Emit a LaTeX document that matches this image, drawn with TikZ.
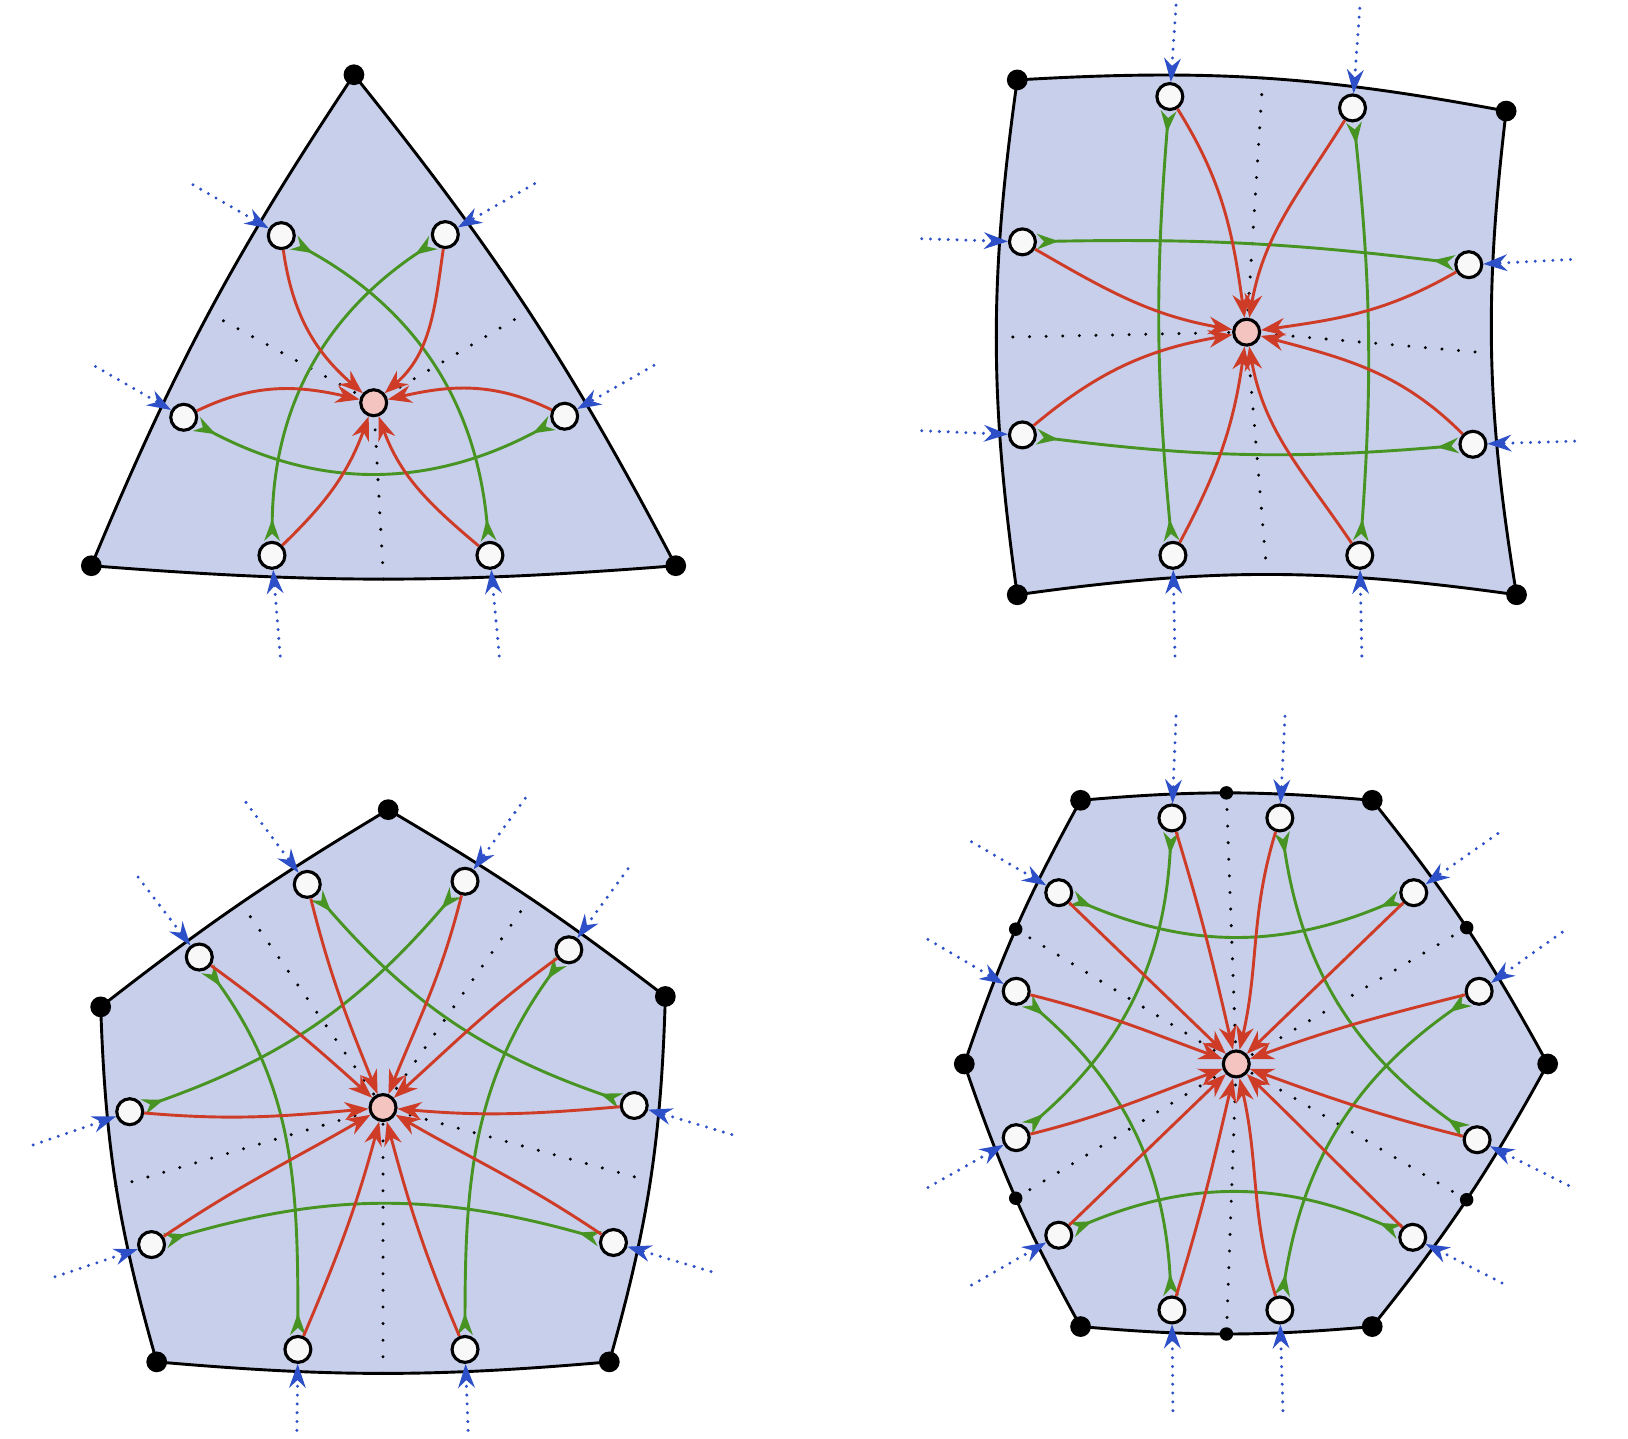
\documentclass[tikz,border=0pt]{standalone}
\usetikzlibrary{arrows.meta}
\definecolor{polyfill}{RGB}{199,207,234}
\definecolor{arrred}{RGB}{206,60,40}
\definecolor{arrgreen}{RGB}{72,148,34}
\definecolor{arrblue}{RGB}{45,80,200}
\definecolor{centerpink}{RGB}{244,196,192}
\definecolor{nodewhite}{RGB}{248,248,248}
\begin{document}
\begin{tikzpicture}[x=1pt,y=-1pt,
  poly/.style={draw=black,line width=2.8pt,fill=polyfill,line join=round},
  wn/.style={circle,draw=black,line width=3pt,fill=nodewhite,minimum size=25pt,inner sep=0pt},
  cn/.style={circle,draw=black,line width=3pt,fill=centerpink,minimum size=25pt,inner sep=0pt},
  vdot/.style={circle,fill=black,minimum size=20pt,inner sep=0pt},
  mdot/.style={circle,fill=black,minimum size=13pt,inner sep=0pt},
  redarr/.style={draw=arrred,line width=2.8pt,-{Stealth[length=23pt,width=17pt]}},
  grnarr/.style={draw=arrgreen,line width=2.8pt,{Stealth[length=21pt,width=15pt,reversed]}-{Stealth[length=21pt,width=15pt,reversed]}},
  bluarr/.style={draw=arrblue,line width=3.2pt,dash pattern=on 0pt off 8.5pt,line cap=round,-{Stealth[length=23pt,width=16pt]}},
  axisln/.style={draw=black,line width=3.2pt,dash pattern=on 0pt off 16pt,line cap=round},
]
\useasboundingbox (0,0) rectangle (1568.4,1385.4);

% ================= polygons =================
% triangle
\coordinate (tV1) at (341,72);
\coordinate (tV2) at (88,545);
\coordinate (tV3) at (651,545);
\path[poly] (tV2) to[bend right=4.5] coordinate[pos=.5] (tM1) (tV3)
  to[bend right=5.5] coordinate[pos=.5] (tM2) (tV1)
  to[bend right=5.5] coordinate[pos=.5] (tM3) (tV2) -- cycle;
% square
\coordinate (sV1) at (980,77);
\coordinate (sV2) at (1451,107);
\coordinate (sV3) at (1461,573);
\coordinate (sV4) at (980,573);
\path[poly] (sV1) to[bend right=8] coordinate[pos=.5] (sMl) (sV4)
  to[bend left=8] coordinate[pos=.5] (sMb) (sV3)
  to[bend left=8] coordinate[pos=.5] (sMr) (sV2)
  to[bend right=7] coordinate[pos=.5] (sMt) (sV1) -- cycle;
% pentagon
\coordinate (pV1) at (374,780);
\coordinate (pV2) at (97,970);
\coordinate (pV3) at (151,1312);
\coordinate (pV4) at (587,1312);
\coordinate (pV5) at (641,960);
\path[poly] (pV1) to[bend right=3.5] coordinate[pos=.5] (pM1) (pV2)
  to[bend right=7] coordinate[pos=.5] (pM2) (pV3)
  to[bend right=5] coordinate[pos=.5] (pM3) (pV4)
  to[bend right=7] coordinate[pos=.5] (pM4) (pV5)
  to[bend right=3.5] coordinate[pos=.5] (pM5) (pV1) -- cycle;
% hexagon
\coordinate (hV1) at (1041,771);
\coordinate (hV2) at (929,1025);
\coordinate (hV3) at (1041,1278);
\coordinate (hV4) at (1322,1278);
\coordinate (hV5) at (1491,1025);
\coordinate (hV6) at (1322,771);
\path[poly] (hV1) to[bend right=5] coordinate[pos=.5] (hM1) (hV2)
  to[bend right=5] coordinate[pos=.5] (hM2) (hV3)
  to[bend right=5] coordinate[pos=.5] (hM3) (hV4)
  to[bend right=5] coordinate[pos=.5] (hM4) (hV5)
  to[bend right=5] coordinate[pos=.5] (hM5) (hV6)
  to[bend right=5] coordinate[pos=.5] (hM6) (hV1) -- cycle;

% ================= nodes =================
% triangle
\node[cn] (tC) at (360,388) {};
\node[wn] (tL1) at (271,227) {};
\node[wn] (tL2) at (177,402) {};
\node[wn] (tR1) at (429,226) {};
\node[wn] (tR2) at (544,401) {};
\node[wn] (tB1) at (262,535) {};
\node[wn] (tB2) at (472,535) {};
% square
\node[cn] (sC) at (1201,320) {};
\node[wn] (sT1) at (1127,93) {};
\node[wn] (sT2) at (1303,104) {};
\node[wn] (sR1) at (1415,255) {};
\node[wn] (sR2) at (1419,428) {};
\node[wn] (sB1) at (1130,535) {};
\node[wn] (sB2) at (1310,535) {};
\node[wn] (sL1) at (985,233) {};
\node[wn] (sL2) at (985,419) {};
% pentagon
\node[cn] (pO) at (369,1067) {};
\node[wn] (pa1) at (192,922) {};
\node[wn] (pa2) at (296,852) {};
\node[wn] (pb1) at (448,849) {};
\node[wn] (pb2) at (548,915) {};
\node[wn] (pc1) at (611,1065) {};
\node[wn] (pc2) at (591,1197) {};
\node[wn] (pd1) at (448,1300) {};
\node[wn] (pd2) at (287,1300) {};
\node[wn] (pe1) at (146,1199) {};
\node[wn] (pe2) at (125,1071) {};
% hexagon
\node[cn] (hO) at (1191,1025) {};
\node[wn] (ht1) at (1129,788) {};
\node[wn] (ht2) at (1233,788) {};
\node[wn] (hr1) at (1362,860) {};
\node[wn] (hr2) at (1425,955) {};
\node[wn] (hs1) at (1423,1098) {};
\node[wn] (hs2) at (1361,1192) {};
\node[wn] (hb1) at (1233,1262) {};
\node[wn] (hb2) at (1129,1262) {};
\node[wn] (hl1) at (1020,1190) {};
\node[wn] (hl2) at (979,1096) {};
\node[wn] (hu1) at (979,955) {};
\node[wn] (hu2) at (1020,860) {};

% ================= dotted axes =================
\foreach \m in {tM1,tM2,tM3} \draw[axisln] (\m) -- (tC);
\foreach \m in {sMl,sMb,sMr,sMt} \draw[axisln] (\m) -- (sC);
\foreach \m in {pM1,pM2,pM3,pM4,pM5} \draw[axisln] (\m) -- (pO);
\foreach \m in {hM1,hM2,hM3,hM4,hM5,hM6} \draw[axisln] (\m) -- (hO);

% ================= green =================
\draw[grnarr] (tL2) to[bend right=28] (tR2);
\draw[grnarr] (tL1) to[bend left=28] (tB2);
\draw[grnarr] (tR1) to[bend right=28] (tB1);

\draw[grnarr] (sT1) to[bend right=5] (sB1);
\draw[grnarr] (sT2) to[bend left=5] (sB2);
\draw[grnarr] (sL1) to[bend left=4] (sR1);
\draw[grnarr] (sL2) to[bend right=6] (sR2);

\draw[grnarr] (pe2) to[bend right=15] (pb1);
\draw[grnarr] (pa2) to[bend right=15] (pc1);
\draw[grnarr] (pb2) to[out=-126,in=90] (pd1);
\draw[grnarr] (pe1) to[bend left=16] (pc2);
\draw[grnarr] (pa1) to[out=-54,in=90] (pd2);

\draw[grnarr] (hu2) to[bend right=23] (hr1);
\draw[grnarr] (hl1) to[bend left=23] (hs2);
\draw[grnarr] (ht1) to[bend left=23] (hl2);
\draw[grnarr] (ht2) to[bend right=23] (hs1);
\draw[grnarr] (hu1) to[bend left=23] (hb2);
\draw[grnarr] (hr2) to[bend right=23] (hb1);

% ================= red =================
\draw[redarr] (tL1) to[out=-82,in=139] (tC);
\draw[redarr] (tR1) to[out=-98,in=41] (tC);
\draw[redarr] (tL2) to[out=26,in=167] (tC);
\draw[redarr] (tR2) to[out=154,in=13] (tC);
\draw[redarr] (tB1) to[out=44,in=-110] (tC);
\draw[redarr] (tB2) to[out=140,in=-70] (tC);

\draw[redarr] (sT1) to[out=-58,in=98] (sC);
\draw[redarr] (sT2) to[out=-122,in=80] (sC);
\draw[redarr] (sL1) to[out=-30,in=170] (sC);
\draw[redarr] (sL2) to[out=40,in=190] (sC);
\draw[redarr] (sR1) to[out=-150,in=8] (sC);
\draw[redarr] (sR2) to[out=135,in=-15] (sC);
\draw[redarr] (sB1) to[out=62,in=-98] (sC);
\draw[redarr] (sB2) to[out=124,in=-80] (sC);

\draw[redarr] (pa1) to[out=-36,in=138] (pO);
\draw[redarr] (pa2) to[out=-76,in=112] (pO);
\draw[redarr] (pb1) to[out=-104,in=68] (pO);
\draw[redarr] (pb2) to[out=-144,in=42] (pO);
\draw[redarr] (pe2) to[out=-5,in=185] (pO);
\draw[redarr] (pc1) to[out=-175,in=-5] (pO);
\draw[redarr] (pe1) to[out=34,in=-150] (pO);
\draw[redarr] (pc2) to[out=146,in=-30] (pO);
\draw[redarr] (pd2) to[out=67,in=-105] (pO);
\draw[redarr] (pd1) to[out=113,in=-75] (pO);

\draw[redarr] (ht1) to[out=-73,in=103] (hO);
\draw[redarr] (ht2) to[out=-107,in=77] (hO);
\draw[redarr] (hr1) to[out=-136,in=44] (hO);
\draw[redarr] (hu2) to[out=-44,in=136] (hO);
\draw[redarr] (hr2) to[out=-166,in=20] (hO);
\draw[redarr] (hu1) to[out=-14,in=160] (hO);
\draw[redarr] (hs1) to[out=166,in=-20] (hO);
\draw[redarr] (hl2) to[out=14,in=200] (hO);
\draw[redarr] (hs2) to[out=136,in=-44] (hO);
\draw[redarr] (hl1) to[out=44,in=224] (hO);
\draw[redarr] (hb2) to[out=73,in=257] (hO);
\draw[redarr] (hb1) to[out=107,in=283] (hO);

% ================= blue =================
\coordinate (tbL1) at (186,178);
\coordinate (tbL2) at (92,353);
\coordinate (tbR1) at (515,177);
\coordinate (tbR2) at (630,352);
\coordinate (tbB1) at (270,632);
\coordinate (tbB2) at (481,632);
\foreach \n in {L1,L2,R1,R2,B1,B2} \draw[bluarr] (tb\n) -- (t\n);

\coordinate (sbT1) at (1133,5);
\coordinate (sbT2) at (1310,8);
\coordinate (sbR1) at (1513,250);
\coordinate (sbR2) at (1517,425);
\coordinate (sbB1) at (1132,632);
\coordinate (sbB2) at (1312,632);
\coordinate (sbL1) at (888,230);
\coordinate (sbL2) at (888,415);
\foreach \n in {T1,T2,R1,R2,B1,B2,L1,L2} \draw[bluarr] (sb\n) -- (s\n);

\coordinate (pba1) at (133,845);
\coordinate (pba2) at (237,773);
\coordinate (pbb1) at (506,769);
\coordinate (pbb2) at (605,837);
\coordinate (pbc1) at (705,1093);
\coordinate (pbc2) at (685,1225);
\coordinate (pbd1) at (451,1378);
\coordinate (pbd2) at (286,1378);
\coordinate (pbe1) at (53,1230);
\coordinate (pbe2) at (32,1103);
\foreach \n in {a1,a2,b1,b2,c1,c2,d1,d2,e1,e2} \draw[bluarr] (pb\n) -- (p\n);

\coordinate (hbt1) at (1133,690);
\coordinate (hbt2) at (1238,690);
\coordinate (hbr1) at (1443,803);
\coordinate (hbr2) at (1505,898);
\coordinate (hbs1) at (1511,1142);
\coordinate (hbs2) at (1447,1236);
\coordinate (hbb1) at (1236,1359);
\coordinate (hbb2) at (1130,1359);
\coordinate (hbl1) at (936,1238);
\coordinate (hbl2) at (894,1144);
\coordinate (hbu1) at (894,905);
\coordinate (hbu2) at (936,811);
\foreach \n in {t1,t2,r1,r2,s1,s2,b1,b2,l1,l2,u1,u2} \draw[bluarr] (hb\n) -- (h\n);

% ================= vertex dots =================
\foreach \v in {1,2,3} \node[vdot] (tD\v) at (tV\v) {};
\foreach \v in {1,2,3,4} \node[vdot] (sD\v) at (sV\v) {};
\foreach \v in {1,2,3,4,5} \node[vdot] (pD\v) at (pV\v) {};
\foreach \v in {1,2,3,4,5,6} \node[vdot] (hD\v) at (hV\v) {};
\foreach \v in {1,2,3,4,5,6} \node[mdot] (hK\v) at (hM\v) {};
\end{tikzpicture}
\end{document}
